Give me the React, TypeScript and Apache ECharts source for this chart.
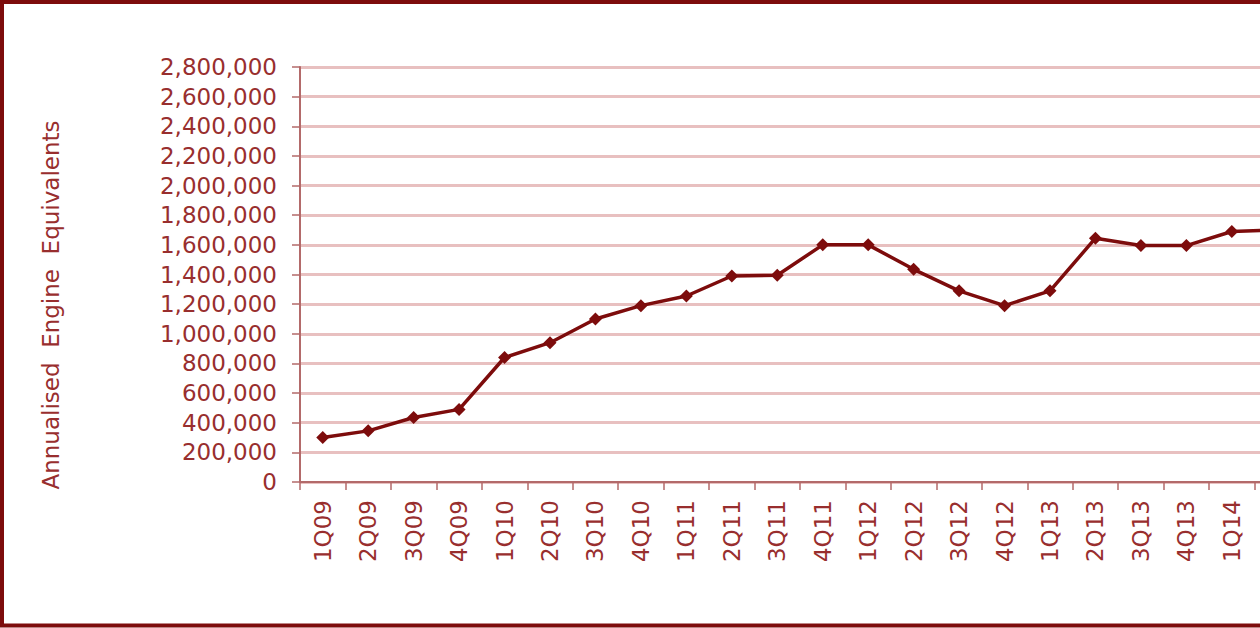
import React, { useEffect, useRef } from "react";
import * as echarts from "echarts";

const categories = [
  "1Q09", "2Q09", "3Q09", "4Q09",
  "1Q10", "2Q10", "3Q10", "4Q10",
  "1Q11", "2Q11", "3Q11", "4Q11",
  "1Q12", "2Q12", "3Q12", "4Q12",
  "1Q13", "2Q13", "3Q13", "4Q13",
  "1Q14", "2Q14",
];

const engineEquivalents = [
  300000, 345000, 435000, 490000,
  840000, 940000, 1100000, 1190000,
  1255000, 1390000, 1395000, 1600000,
  1600000, 1435000, 1290000, 1190000,
  1290000, 1645000, 1595000, 1595000,
  1690000, 1700000,
];

const yAxisTitle = "Annualised  Engine  Equivalents";

const DARK = "#7d0c0c";
const TEXT = "#982e2e";
const AXIS = "#b36a6a";
const GRID = "#e8c0c0";
const FONT = "'DejaVu Sans', 'Liberation Sans', Arial, sans-serif";

export default function App() {
  const ref = useRef<HTMLDivElement>(null);

  useEffect(() => {
    if (!ref.current) return;
    const chart = echarts.init(ref.current, undefined, { renderer: "svg" });
    const lastVisible = categories.length - 2;
    chart.setOption({
      animation: false,
      backgroundColor: "#ffffff",
      textStyle: { fontFamily: FONT },
      graphic: [
        {
          type: "rect",
          shape: { x: 2, y: 2, width: 1500, height: 623.5 },
          style: { fill: "none", stroke: DARK, lineWidth: 4 },
          silent: true,
        },
        {
          type: "text",
          x: 51,
          y: 305,
          rotation: Math.PI / 2,
          style: {
            text: yAxisTitle,
            fill: TEXT,
            fontSize: 23,
            fontFamily: FONT,
            align: "center",
            verticalAlign: "middle",
          },
          silent: true,
        },
      ],
      grid: { left: 300, top: 67, width: 1000, height: 415, containLabel: false },
      xAxis: {
        type: "category",
        data: categories,
        boundaryGap: true,
        axisLine: { show: true, lineStyle: { color: AXIS, width: 2 } },
        axisTick: { show: true, interval: 0, length: 8, lineStyle: { color: AXIS, width: 1.5 } },
        axisLabel: {
          rotate: 90,
          margin: 18,
          color: TEXT,
          fontSize: 23,
          fontFamily: FONT,
          interval: (index: number) => index <= lastVisible,
        },
        splitLine: { show: false },
      },
      yAxis: {
        type: "value",
        min: 0,
        max: 2800000,
        interval: 200000,
        axisLine: { show: true, lineStyle: { color: AXIS, width: 2 } },
        axisTick: { show: true, length: 8, lineStyle: { color: AXIS, width: 1.5 } },
        axisLabel: {
          margin: 23,
          color: TEXT,
          fontSize: 23,
          fontFamily: FONT,
          formatter: (v: number) => v.toLocaleString("en-US"),
        },
        splitLine: { show: true, lineStyle: { color: GRID, width: 3 } },
      },
      series: [
        {
          type: "line",
          data: engineEquivalents,
          symbol: "diamond",
          symbolSize: 13,
          lineStyle: { color: DARK, width: 3.5 },
          itemStyle: { color: DARK },
        },
      ],
    });
    return () => chart.dispose();
  }, []);

  return (
    <div
      style={{
        position: "fixed",
        left: 0,
        top: 0,
        width: 1260,
        height: 628,
        overflow: "hidden",
        background: "#fff",
      }}
    >
      <div ref={ref} style={{ width: 1340, height: 628 }} />
    </div>
  );
}
